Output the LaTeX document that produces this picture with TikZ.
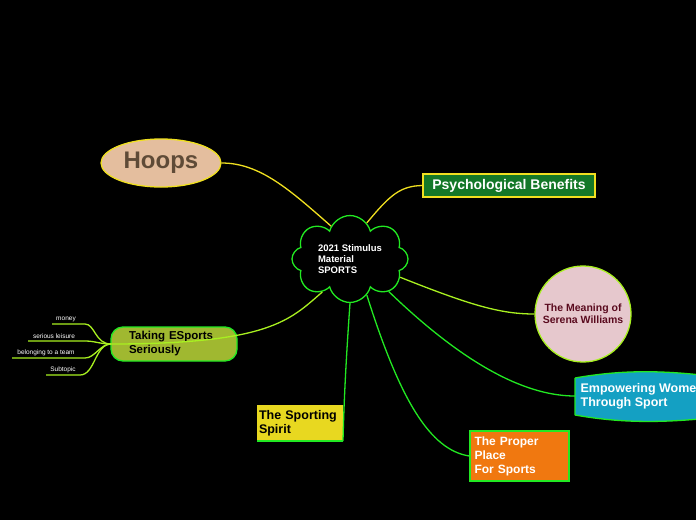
\documentclass[tikz,border=0pt]{standalone}
\usepackage{fontspec}
\setmainfont{Liberation Sans}
\usetikzlibrary{shapes.symbols,shapes.geometric}
\definecolor{lg}{HTML}{22E822}
\definecolor{yg}{HTML}{A8F020}
\definecolor{yl}{HTML}{F0E020}
\definecolor{tan}{RGB}{228,190,158}
\definecolor{brn}{RGB}{95,75,55}
\definecolor{dg}{RGB}{20,120,40}
\definecolor{pk}{RGB}{230,200,205}
\definecolor{mr}{RGB}{90,10,30}
\definecolor{cy}{RGB}{20,160,195}
\definecolor{orn}{RGB}{240,120,16}
\definecolor{ylf}{RGB}{232,216,32}
\definecolor{olv}{RGB}{160,184,48}
\begin{document}
\begin{tikzpicture}[x=1pt,y=-1pt,
  conn/.style={line width=1.3pt},
  sub/.style={font=\fontsize{6.5}{7}\selectfont,text=white,inner sep=1pt,anchor=south},
  box/.style={font=\bfseries\fontsize{12.5}{14}\selectfont,align=left,line width=1.3pt}]
\fill[black] (0,0) rectangle (696,520);
\useasboundingbox (0,0) rectangle (696,520);
\clip (0,0) rectangle (696,520);
\node[cloud,cloud puffs=8,aspect=1.6,draw=lg,line width=1.3pt,fill=black,minimum width=116,minimum height=78,
  text=white,font=\bfseries\fontsize{9.5}{11}\selectfont,align=left] (c) at (350,259) {2021 Stimulus\\Material\\SPORTS};
\node[ellipse,draw=yl,line width=1.3pt,fill=tan,minimum width=120,minimum height=48,
  font=\bfseries\fontsize{24}{26}\selectfont,text=brn] (h) at (161,163) {Hoops};
\node[box,draw=yl,fill=dg,text=white,minimum width=172,minimum height=23,font=\bfseries\fontsize{14}{16}\selectfont] (p) at (509,185.5) {Psychological Benefits};
\node[circle,draw=yg,line width=1.3pt,fill=pk,minimum size=96,
  text=mr,font=\bfseries\fontsize{10.5}{12}\selectfont,align=center,inner sep=0] (s) at (583,314) {The Meaning of\\Serena Williams};
\coordinate (e) at (575,396);
\fill[cy] (575,378) .. controls (620,370) and (660,370) .. (710,376) -- (710,418) .. controls (660,423) and (620,423) .. (575,415) -- cycle;
\draw[lg,line width=1.3pt] (575,378) .. controls (620,370) and (660,370) .. (710,376) (575,415) .. controls (620,423) and (660,423) .. (710,418) (575,378) -- (575,415);
\node[box,text=white,anchor=west,inner sep=0,font=\bfseries\fontsize{12.5}{14}\selectfont] at (580,396) {Empowering Women\\Through Sport};
\node[box,draw=lg,fill=orn,text=white,minimum width=99,minimum height=50,text width=90,inner sep=2pt,font=\bfseries\fontsize{12}{14}\selectfont] (pp) at (519.5,456) {The Proper\\Place\\For Sports};
\node[box,fill=ylf,text=black,minimum width=86,minimum height=36,text width=82,inner sep=2pt] (sp) at (300,423) {The Sporting\\Spirit};
\draw[lg,line width=1.3pt] (257,441) -- (343,441);
\node[box,rounded corners=12,draw=lg,fill=olv,text=black,minimum width=126,minimum height=34,text width=90,font=\bfseries\fontsize{11.5}{14}\selectfont] (t) at (174,344) {Taking ESports\\Seriously};
% connectors
\draw[conn,yl] (c.120) .. controls (290,190) and (260,163) .. (h.east);
\draw[conn,yl] (c.65) .. controls (390,195) and (400,186) .. (p.west);
\draw[conn,yg] (c.-20) .. controls (470,305) and (500,314) .. (s.west);
\draw[conn,lg] (c.-40) .. controls (470,370) and (530,396) .. (e);
\draw[conn,lg] (c.-65) .. controls (400,400) and (430,450) .. (pp.west);
\draw[conn,lg] (c.-90) .. controls (346,360) and (344,400) .. (343,441);
\draw[conn,yg] (c.-130) .. controls (290,320) and (270,344) .. (t.west);
% subtopics
\coordinate (r) at (111,344);
\node[sub] (m) at (66,323) {money};
\node[sub] (sl) at (54,340) {serious leisure};
\node[sub] (bt) at (46,357) {belonging to a team};
\node[sub] (st) at (63,374) {Subtopic};
\draw[conn,yg] (52,324) -- (85,324) .. controls (95,324) and (95,344) .. (r);
\draw[conn,yg] (28,341) -- (85,341) .. controls (95,341) and (100,344) .. (r);
\draw[conn,yg] (12,358) -- (85,358) .. controls (95,358) and (100,344) .. (r);
\draw[conn,yg] (46,375) -- (80,375) .. controls (95,375) and (95,344) .. (r);
\end{tikzpicture}
\end{document}
